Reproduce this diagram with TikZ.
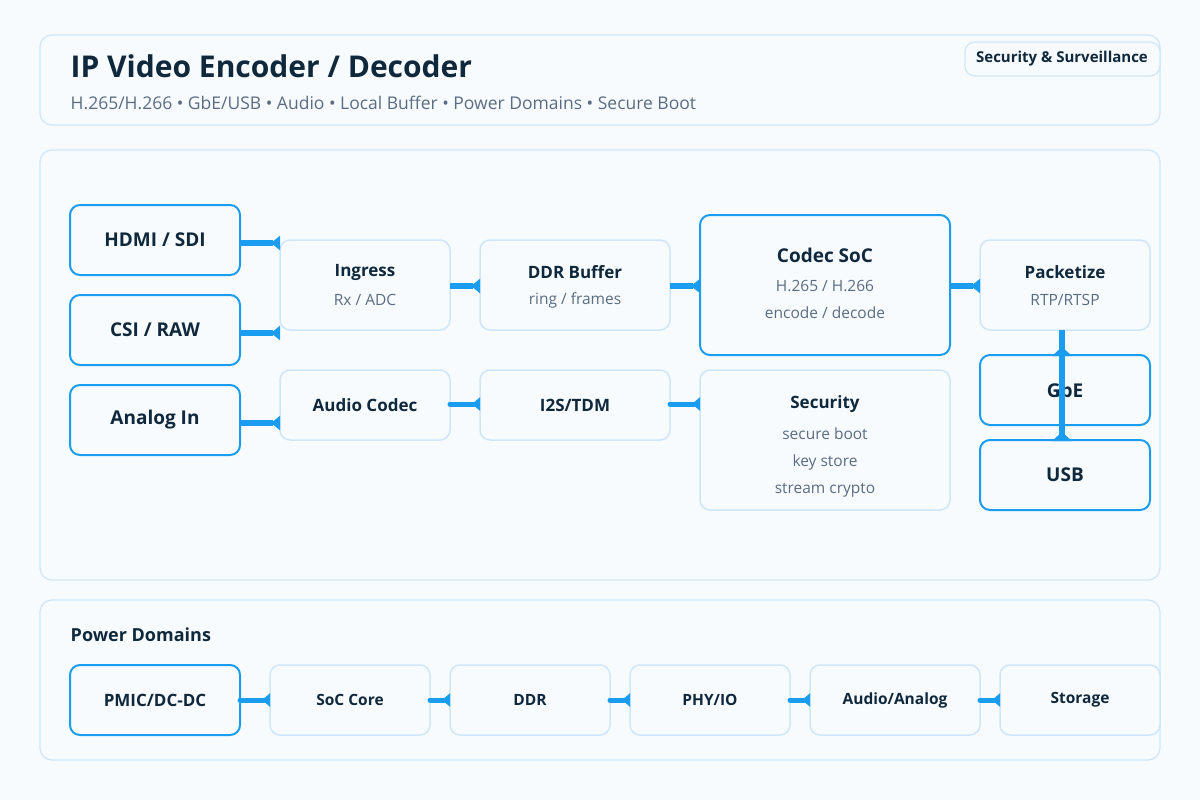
\documentclass[tikz,border=0pt]{standalone}
\usepackage{fontspec}
\setmainfont{Open Sans}
\usetikzlibrary{arrows.meta}
\definecolor{bgc}{HTML}{F7FBFE}
\definecolor{edgeL}{HTML}{CFE6FA}
\definecolor{edgeS}{HTML}{1A9DF0}
\definecolor{ink}{HTML}{10283C}
\definecolor{subink}{HTML}{5B6C82}
\tikzset{every picture/.style={line width=0.75pt}}
\tikzset{
  panel/.style={draw=edgeL,fill=bgc,rounded corners=12,line width=1.2pt},
  soft/.style={draw=edgeL,fill=bgc,rounded corners=10,line width=1.5pt},
  strong/.style={draw=edgeS,fill=bgc,rounded corners=10,line width=2pt},
  ttl/.style={text=ink,font=\bfseries\fontsize{17}{20}\selectfont},
  sub/.style={text=subink,font=\fontsize{15.5}{19}\selectfont},
  link/.style={draw=edgeS,line width=6pt,-{Triangle[reversed,width=14pt,length=9pt]}},
  thin link/.style={draw=edgeS,line width=5pt,line cap=round,-{Triangle[reversed,width=13pt,length=8pt]}},
}
\begin{document}
\begin{tikzpicture}[x=1pt,y=-1pt]
        \fill[bgc] (0,0) rectangle (1200,800);
        \useasboundingbox (0,0) rectangle (1200,800);

        % header
        \draw[panel] (40,35) rectangle (1160,125);
        \node[anchor=west,text=ink,font=\bfseries\fontsize{30}{34}\selectfont] (title) at (67,66) {IP Video Encoder / Decoder};
        \node[anchor=west,text=subink,font=\fontsize{17.5}{20}\selectfont] (subtitle) at (67,103) {H.265/H.266 • GbE/USB • Audio • Local Buffer • Power Domains • Secure Boot};
        \draw[draw=edgeL,fill=bgc,rounded corners=10,line width=1.2pt] (965,42) rectangle (1160,76);
        \node[ttl,font=\bfseries\fontsize{15}{18}\selectfont] (tag) at (1062,59) {Security \& Surveillance};

        % main panel
        \draw[panel] (40,150) rectangle (1160,580);

        \draw[strong] (70,205) rectangle (240,275);
        \node[ttl,font=\bfseries\fontsize{19}{22}\selectfont] (hdmi) at (155,240) {HDMI / SDI};
        \draw[strong] (70,295) rectangle (240,365);
        \node[ttl,font=\bfseries\fontsize{19}{22}\selectfont] (csi) at (155,330) {CSI / RAW};
        \draw[strong] (70,385) rectangle (240,455);
        \node[ttl,font=\bfseries\fontsize{19}{22}\selectfont] (analog) at (155,420) {Analog In};

        \draw[soft] (280,240) rectangle (450,330);
        \node[ttl] (ingress) at (365,272) {Ingress};
        \node[sub] (ingressS) at (365,300) {Rx / ADC};
        \draw[soft] (480,240) rectangle (670,330);
        \node[ttl] (ddrbuf) at (575,272) {DDR Buffer};
        \node[sub] (ddrbufS) at (575,300) {ring / frames};
        \draw[strong] (700,215) rectangle (950,355);
        \node[ttl,font=\bfseries\fontsize{19}{22}\selectfont] (codec) at (825,255) {Codec SoC};
        \node[sub] (codecA) at (825,286) {H.265 / H.266};
        \node[sub] (codecB) at (825,313) {encode / decode};
        \draw[soft] (980,240) rectangle (1150,330);
        \node[ttl] (pkt) at (1065,272) {Packetize};
        \node[sub] (pktS) at (1065,300) {RTP/RTSP};

        \draw[soft] (280,370) rectangle (450,440);
        \node[ttl] (audio) at (365,405) {Audio Codec};
        \draw[soft] (480,370) rectangle (670,440);
        \node[ttl] (i2s) at (575,405) {I2S/TDM};
        \draw[soft] (700,370) rectangle (950,510);
        \node[ttl] (sec) at (825,404) {Security};
        \node[sub] (secA) at (825,434) {secure boot};
        \node[sub] (secB) at (825,462) {key store};
        \node[sub] (secC) at (825,490) {stream crypto};

        \draw[strong] (980,355) rectangle (1150,425);
        \node[ttl,font=\bfseries\fontsize{19}{22}\selectfont] (gbe) at (1065,390) {GbE};
        \draw[strong] (980,440) rectangle (1150,510);
        \node[ttl,font=\bfseries\fontsize{19}{22}\selectfont] (usb) at (1065,475) {USB};

        \coordinate (hdmiR) at (240,243);
        \coordinate (csiR) at (240,333);
        \draw[link] (hdmiR) -- (280,243);
        \draw[link] (csiR) -- (280,333);
        \draw[link] (450,286) -- (480,286);
        \draw[link] (670,286) -- (700,286);
        \draw[link] (950,286) -- (980,286);
        \draw[link] (240,423) -- (280,423);
        \draw[thin link] (450,404) -- (480,404);
        \draw[thin link] (670,404) -- (700,404);

        % uplink
        \draw[draw=edgeS,line width=6pt] (1062,440) -- (1062,330);
        \fill[edgeS] (1052,356) -- (1062,347) -- (1072,356) -- cycle;
        \fill[edgeS] (1052,441) -- (1062,432) -- (1072,441) -- cycle;

        % power domains
        \draw[panel] (40,600) rectangle (1160,760);
        \node[anchor=west,ttl,font=\bfseries\fontsize{18}{21}\selectfont] (pwr) at (67,635) {Power Domains};
        \draw[strong] (70,665) rectangle (240,735);
        \node[ttl] (pmic) at (155,700) {PMIC/DC-DC};
        \draw[soft] (270,665) rectangle (430,735);
        \node[ttl,font=\bfseries\fontsize{15.5}{18}\selectfont] (core) at (350,700) {SoC Core};
        \draw[soft] (450,665) rectangle (610,735);
        \node[ttl,font=\bfseries\fontsize{15.5}{18}\selectfont] (ddr) at (530,700) {DDR};
        \draw[soft] (630,665) rectangle (790,735);
        \node[ttl,font=\bfseries\fontsize{15.5}{18}\selectfont] (phy) at (710,700) {PHY/IO};
        \draw[soft] (810,665) rectangle (980,735);
        \node[ttl,font=\bfseries\fontsize{15.5}{18}\selectfont] (aan) at (895,700) {Audio/Analog};
        \draw[soft] (1000,665) rectangle (1160,735);
        \node[ttl,font=\bfseries\fontsize{15.5}{18}\selectfont] (stor) at (1080,700) {Storage};

        \draw[thin link] (240,700) -- (270,700);
        \draw[thin link] (430,700) -- (450,700);
        \draw[thin link] (610,700) -- (630,700);
        \draw[thin link] (790,700) -- (810,700);
        \draw[thin link] (980,700) -- (1000,700);
\end{tikzpicture}
\end{document}
